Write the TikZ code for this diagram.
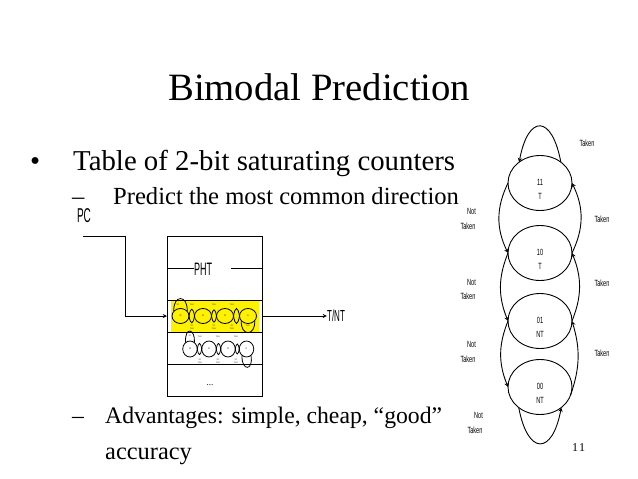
\documentclass[tikz,border=0pt]{standalone}
\usepackage{fontspec}
\setmainfont{Liberation Serif}
\newfontfamily\narrowfont[FakeStretch=0.62]{Liberation Sans}
\newfontfamily\thinfont[FakeStretch=0.5]{Liberation Sans}
\usetikzlibrary{positioning,shapes.geometric}
\tikzset{
    statenode/.style={draw,ellipse,line width=.9pt,minimum width=64pt,minimum height=55pt,inner sep=0pt,outer sep=0pt},
    statelabel/.style={align=center,font=\narrowfont\fontsize{9}{14.5}\selectfont,inner sep=0pt,yshift=-6.5pt},
    edgelabel/.style={align=center,font=\narrowfont\fontsize{9}{14.5}\selectfont,inner sep=0pt},
    rowbox/.style={draw,line width=.9pt,minimum width=95pt,minimum height=32pt,inner sep=0pt,outer sep=0pt},
    ministate/.style={draw,ellipse,line width=.8pt,inner sep=0pt,outer sep=0pt},
    minitext/.style={align=center,font=\narrowfont\fontsize{2.5}{3}\selectfont,inner sep=0pt,text=black!70},
    slidetext/.style={anchor=base west,inner sep=0pt},
}
\begin{document}
\begin{tikzpicture}[x=1pt,y=-1pt,>=stealth,node distance=32pt,on grid]
    \useasboundingbox (0,0) rectangle (638,479);
    % slide text
    \node[slidetext,font=\fontsize{38.7}{40}\selectfont] (title) at (168,100) {Bimodal Prediction};
    \node[slidetext,font=\fontsize{28.8}{30}\selectfont] (bullet) at (30,170) {•};
    \node[slidetext,font=\fontsize{28.8}{30}\selectfont] (tbl) at (73,170) {Table of 2-bit saturating counters};
    \node[slidetext,font=\fontsize{24.6}{26}\selectfont] (dash1) at (72,204) {–};
    \node[slidetext,font=\fontsize{24.6}{26}\selectfont] (predict) at (113,204) {Predict the most common direction};
    \node[slidetext,font=\fontsize{23.7}{26}\selectfont] (dash2) at (72,423) {–};
    \node[slidetext,font=\fontsize{23.7}{26}\selectfont] (adv) at (105,423) {Advantages: simple, cheap, “good”};
    \node[slidetext,font=\fontsize{24.4}{26}\selectfont] (acc) at (105,459) {accuracy};
    \node[slidetext,font=\fontsize{12}{14}\selectfont] (page) at (572,451) {1\kern1pt 1};

    % PHT
    \node[rowbox] (r1) at (214.5,252) {};
    \node[rowbox] (r2) [below=of r1] {};
    \node[rowbox] (r3) [below=of r2] {};
    \node[rowbox] (r4) [below=of r3] {};
    \node[rowbox] (r5) [below=of r4] {};
    \fill[yellow] (171,301) rectangle (259,331.5);
    \node[fill=white,inner sep=0pt,minimum width=37pt,minimum height=16pt,text width=37pt,font=\thinfont\fontsize{18}{18}\selectfont] (pht) at (212.5,269) {PHT};
    \node[inner sep=0pt,font=\fontsize{9}{9}\selectfont] (dots) at (210,385) {...};
    \node[inner sep=0pt,font=\thinfont\fontsize{16}{16}\selectfont] (tnt) at (336,316) {T/NT};
    \node[inner sep=0pt,font=\thinfont\fontsize{20}{20}\selectfont] (pc) at (84,216) {PC};
    \coordinate (pcstart) at (83,236);
    \draw[->,line width=.9pt] (pcstart) -| (125,316) -- (r3.west);
    \draw[->,line width=.9pt] (r3.east) -- (tnt.west);

    % small counters, highlighted row
    \foreach \n/\x/\s in {a/180.5/00,b/203/01,c/225/10,d/248/11}
        \node[ministate,minimum width=17pt,minimum height=15pt,font=\narrowfont\fontsize{2.5}{3}\selectfont] (y\n) at (\x,316) {\s};
    \foreach \n/\x/\s in {a/190/00,b/209/01,c/228/10,d/246.5/11}
        \node[ministate,minimum width=14.5pt,minimum height=16pt,font=\narrowfont\fontsize{2.5}{3}\selectfont] (w\n) at (\x,349) {\s};
    \foreach \r in {y,w} {
        \path[line width=.8pt]
            (\r a.east) edge [bend left=80,looseness=4.3] (\r b.west)
            (\r b.west) edge [bend left=80,looseness=4.3] (\r a.east)
            (\r b.east) edge [bend left=80,looseness=4.3] (\r c.west)
            (\r c.west) edge [bend left=80,looseness=4.3] (\r b.east)
            (\r c.east) edge [bend left=80,looseness=4.3] (\r d.west)
            (\r d.west) edge [bend left=80,looseness=4.3] (\r c.east);
    }
    \draw[line width=.8pt] (ya.145) .. controls +(-1,-17) and +(1,-17) .. (ya.35);
    \draw[line width=.8pt] (yd.325) .. controls +(1,16) and +(-1,16) .. (yd.215);
    \draw[line width=.8pt] (wa.125) .. controls +(-1,-17) and +(1,-14) .. (wa.55);
    \draw[line width=.8pt] (wd.305) .. controls +(3,16) and +(-1,16) .. (wd.235);
    \foreach \n/\x/\y/\t in {ya/178/305/Not,yb/192/305/Taken,yc/214/305/Taken,yd/232/305/Taken,
        ye/192/327/Not\\Taken,yf/214/327/Not\\Taken,yg/232/327/Not\\Taken,yh/248/326/Taken,
        wa/190/336/Not,wb/200/337/Taken,wc/218/337/Taken,wd/236/337/Taken,
        we/200/361/Not\\Taken,wf/218/361/Not\\Taken,wg/236/361/Not\\Taken}
        \node[minitext] (t\n) at (\x,\y) {\t};

    % state machine
    \node[statenode,label={[statelabel]center:11\\T}] (s11) at (540,183) {};
    \node[statenode,label={[statelabel]center:10\\T}] (s10) at (540,253) {};
    \node[statenode,label={[statelabel]center:01\\NT}] (s01) at (540,321) {};
    \node[statenode,label={[statelabel]center:00\\NT}] (s00) at (540,387) {};
    \path[->,line width=.9pt]
        (s11.west) edge [bend right=26] (s10.west)
        (s10.west) edge [bend right=22] (s01.west)
        (s01.west) edge [bend right=22] (s00.west)
        (s10.east) edge [bend right=26] (s11.east)
        (s01.east) edge [bend right=22] (s10.east)
        (s00.345) edge [bend right=18] (s01.east);
    \draw[->,line width=.9pt] (s11.45) .. controls +(-9,-48) and +(9,-48) .. (s11.135);
    \draw[->,line width=.9pt] (s00.224) .. controls +(9,48) and +(-9,48) .. (s00.316);

    \node[edgelabel] (l1) at (587,143) {Taken};
    \node[edgelabel] (l2) at (602,219) {Taken};
    \node[edgelabel] (l3) at (602,283) {Taken};
    \node[edgelabel] (l4) at (602,353) {Taken};
    \node[edgelabel] (l5) at (468,219) {\hspace*{7pt}Not\\Taken};
    \node[edgelabel] (l6) at (468,289.5) {\hspace*{7pt}Not\\Taken};
    \node[edgelabel] (l7) at (468,352) {\hspace*{7pt}Not\\Taken};
    \node[edgelabel] (l8) at (475,423) {\hspace*{7pt}Not\\Taken};
\end{tikzpicture}
\end{document}
